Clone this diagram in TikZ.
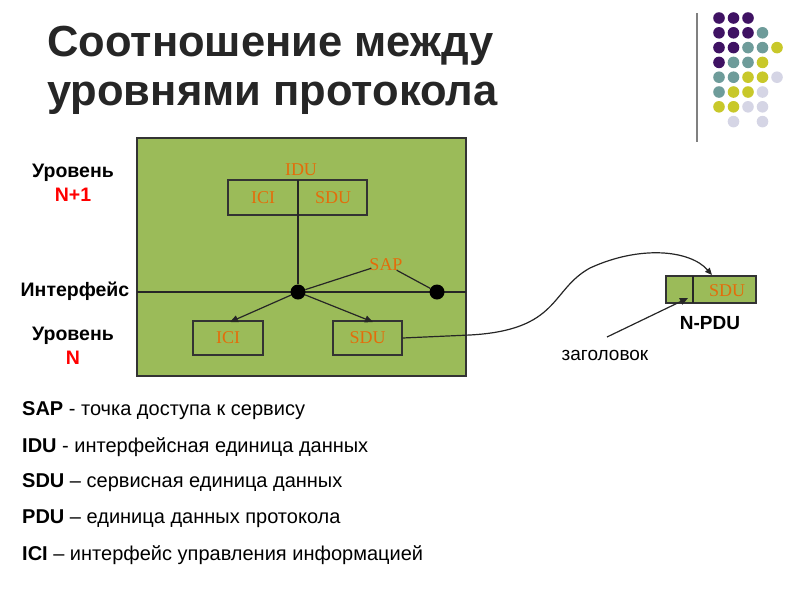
\documentclass[tikz,border=0pt]{standalone}
\usepackage{fontspec}
\setmainfont{Liberation Sans}
\newfontfamily\serifont{Liberation Serif}
\usetikzlibrary{arrows.meta}
\definecolor{boxgreen}{HTML}{9BBB59}
\definecolor{lblred}{HTML}{E46C0A}
\definecolor{dP}{HTML}{3F1263}
\definecolor{dT}{HTML}{6E9C9A}
\definecolor{dY}{HTML}{C8C82A}
\definecolor{dL}{HTML}{D5D5E5}
\tikzset{
  lbl/.style={font=\serifont\fontsize{18}{18}\selectfont, text=lblred, inner sep=0pt},
  cell/.style={draw=black!80, fill=boxgreen, line width=1.2pt},
  side/.style={font=\bfseries\fontsize{19.5}{20}\selectfont, align=center, inner sep=0pt},
  leg/.style={font=\fontsize{20}{22}\selectfont, anchor=west, inner sep=0pt},
  conn/.style={line width=1.2pt, black!85},
  arr/.style={conn, -{Triangle[length=8pt,width=7pt]}},
  blob/.style={circle, fill=black, inner sep=0pt, minimum size=15pt}
}
\begin{document}
\begin{tikzpicture}[x=1pt,y=-1pt]
\useasboundingbox (0,0) rectangle (800,600);
% title
\node[anchor=west, font=\bfseries\fontsize{43.5}{44}\selectfont, text=black!85, inner sep=0pt] (t1) at (47,46) {Соотношение между};
\node[anchor=west, font=\bfseries\fontsize{43.5}{44}\selectfont, text=black!85, inner sep=0pt] (t2) at (47,98) {уровнями протокола};
% decoration
\draw[gray, line width=1.5pt] (697,13) -- (697,142);
\foreach \r/\row in {0/{P,P,P,N,N},1/{P,P,P,T,N},2/{P,P,T,T,Y},3/{P,T,T,Y,N},4/{T,T,Y,Y,L},5/{T,Y,Y,L,N},6/{Y,Y,L,L,N},7/{N,L,N,L,N}}{
  \foreach \c [count=\i from 0] in \row {
    \if\c N\else \fill[d\c] (719+14.5*\i,18+14.8*\r) circle (5.8);\fi
  }
}
% green box
\draw[cell] (137,138) rectangle (466,376);
\coordinate (ifl) at (137,292);
\coordinate (ifr) at (466,292);
\draw[conn] (ifl) -- (ifr);
\draw[cell] (228,180) rectangle (367,215);
\draw[conn] (298,180) -- (298,215);
\node[lbl] (idu) at (301,170) {IDU};
\node[lbl] (ici1) at (263,198) {ICI};
\node[lbl] (sdu1) at (333,198) {SDU};
\node[blob] (d1) at (298,292) {};
\node[blob] (d2) at (437,292) {};
\draw[conn] (298,215) -- (d1);
\node[lbl] (sap) at (386,265) {SAP};
\draw[conn] (sap.south west) ++(2,-3) -- (d1);
\draw[conn] (sap.south east) ++(-6,-1) -- (d2);
\node[cell, minimum width=70pt, minimum height=34pt] (ici2) at (228,338) {};
\node[lbl] at (ici2) {ICI};
\node[cell, minimum width=69pt, minimum height=34pt] (sdu2) at (367.5,338) {};
\node[lbl] at (sdu2) {SDU};
\draw[arr] (d1) -- (230,322);
\draw[arr] (d1) -- (373,322);
% N-PDU
\draw[cell] (666,276) rectangle (756,303);
\draw[conn] (693,276) -- (693,303);
\node[lbl] (sdu3) at (727,291) {SDU};
\node[font=\bfseries\fontsize{19}{20}\selectfont, inner sep=0pt] (npdu) at (710,323) {N-PDU};
\node[font=\fontsize{19}{20}\selectfont, inner sep=0pt] (zag) at (605,355) {заголовок};
\draw[arr] (607,337) -- (688,298);
\draw[conn, -{Triangle[length=7pt,width=6pt]}] (sdu2.east) -- (470,335) .. controls (560,330) and (550,290) .. (590,268) .. controls (640,245) and (690,250) .. (712,275);
% side labels
\node[side] (u1) at (73,173) {Уровень};
\node[side, text=red] (n1) at (73,195) {N+1};
\node[side] (if) at (75,291) {Интерфейс};
\node[side] (u2) at (73,336) {Уровень};
\node[side, text=red] (n2) at (73,358) {N};
% legend
\node[leg] (l1) at (22,411) {\textbf{SAP} - точка доступа к сервису};
\node[leg] (l2) at (22,447) {\textbf{IDU} - интерфейсная единица данных};
\node[leg] (l3) at (22,483) {\textbf{SDU} – сервисная единица данных};
\node[leg] (l4) at (22,519) {\textbf{PDU} – единица данных протокола};
\node[leg] (l5) at (22,555) {\textbf{ICI} – интерфейс управления информацией};
\end{tikzpicture}
\end{document}
